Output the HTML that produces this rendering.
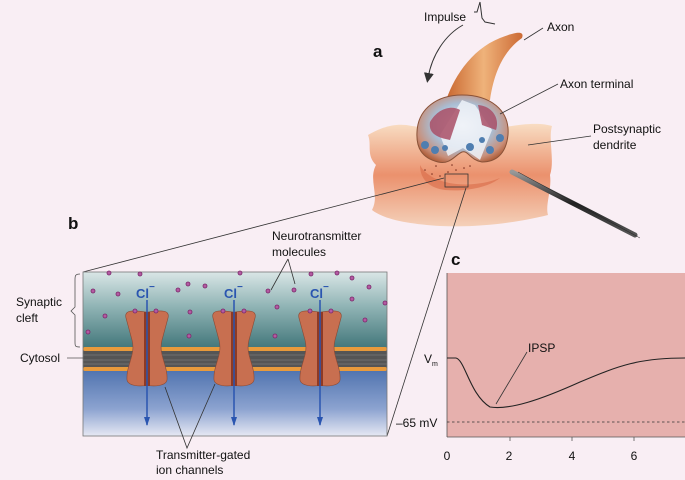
<!DOCTYPE html>
<html><head><meta charset="utf-8"><style>
html,body{margin:0;padding:0;background:#f9eef4;}
svg{display:block;font-family:"Liberation Sans",Arial,sans-serif;}
</style></head><body>
<svg width="685" height="480" viewBox="0 0 685 480" xmlns="http://www.w3.org/2000/svg">
<defs>
<linearGradient id="cleft" x1="0" y1="0" x2="0" y2="1">
<stop offset="0" stop-color="#d9e6e6"/><stop offset="0.45" stop-color="#8fb3b4"/><stop offset="1" stop-color="#3f7478"/>
</linearGradient>
<linearGradient id="cyto" x1="0" y1="0" x2="0" y2="1">
<stop offset="0" stop-color="#4d71ad"/><stop offset="0.6" stop-color="#8ca3d0"/><stop offset="1" stop-color="#e6e8f3"/>
</linearGradient>
<radialGradient id="bulb" cx="0.5" cy="0.45" r="0.6">
<stop offset="0" stop-color="#f4f4f6"/><stop offset="0.55" stop-color="#a9bdd3"/><stop offset="0.85" stop-color="#c98f7a"/><stop offset="1" stop-color="#b0603c"/>
</radialGradient>
<linearGradient id="axon" x1="0" y1="0" x2="1" y2="0">
<stop offset="0" stop-color="#c8652e"/><stop offset="0.5" stop-color="#efb27a"/><stop offset="1" stop-color="#cc6a34"/>
</linearGradient>
<linearGradient id="den" x1="0" y1="0" x2="0" y2="1">
<stop offset="0" stop-color="#f8dcc0"/><stop offset="0.5" stop-color="#ea8c66"/><stop offset="1" stop-color="#f4cfb6"/>
</linearGradient>
<linearGradient id="elec" x1="0" y1="0" x2="0" y2="1">
<stop offset="0" stop-color="#999"/><stop offset="0.5" stop-color="#222"/><stop offset="1" stop-color="#555"/>
</linearGradient>
<marker id="ah" markerWidth="9" markerHeight="8" refX="8" refY="4" orient="auto" markerUnits="userSpaceOnUse">
<path d="M0,1 L9,4 L0,7 Z" fill="#2a55b0"/></marker>
<marker id="ak" markerWidth="10" markerHeight="10" refX="5" refY="5" orient="auto" markerUnits="userSpaceOnUse">
<path d="M0,0 L10,5 L0,10 Z" fill="#333"/></marker>
</defs>

<!-- panel a -->
<text x="373" y="57" font-size="17" font-weight="bold" fill="#111">a</text>
<path d="M368,135 C380,128 395,122 412,126 C440,130 480,132 500,128 C520,124 540,122 552,126 C548,140 555,160 550,175 C552,190 545,205 548,215 C520,222 480,228 440,226 C410,224 385,220 372,210 C380,195 368,180 376,165 C366,155 372,145 368,135 Z" fill="url(#den)" opacity="0.95"/>
<path d="M420,165 C430,185 470,190 500,178 C490,186 470,192 445,190 C430,188 420,180 420,165 Z" fill="#d86a48" opacity="0.6"/>
<path d="M445,104 C452,80 470,50 500,38 C515,32 525,30 522,38 C508,48 495,65 490,100 Z" fill="url(#axon)"/>
<path d="M417,132 C418,108 438,95 462,95 C490,95 510,110 508,135 C506,155 495,162 482,162 C470,160 468,150 462,152 C455,155 450,165 438,162 C422,158 416,148 417,132 Z" fill="url(#bulb)" stroke="#8a5238" stroke-width="1"/>
<path d="M462,100 L440,135 L448,156 L463,148 L480,160 L492,130 L475,105 Z" fill="#eef2f8" opacity="0.85"/>
<path d="M430,122 C438,108 452,105 460,110 L450,140 C440,138 428,135 430,122 Z" fill="#a94f66" opacity="0.85"/>
<path d="M478,105 C492,106 500,118 496,130 L482,125 Z" fill="#a94f66" opacity="0.85"/>
<g fill="#4f7eb0"><circle cx="425" cy="145" r="4"/><circle cx="435" cy="150" r="4"/><circle cx="445" cy="148" r="3"/><circle cx="470" cy="147" r="4"/><circle cx="482" cy="140" r="3"/><circle cx="490" cy="150" r="4"/><circle cx="500" cy="138" r="4"/></g>
<g fill="#7a3020"><circle cx="425" cy="170" r="0.8"/><circle cx="432" cy="174" r="0.8"/><circle cx="440" cy="176" r="0.8"/><circle cx="448" cy="172" r="0.8"/><circle cx="456" cy="170" r="0.8"/><circle cx="464" cy="168" r="0.8"/><circle cx="436" cy="166" r="0.8"/><circle cx="452" cy="165" r="0.8"/><circle cx="470" cy="166" r="0.8"/></g>
<rect x="445" y="174" width="23" height="13" fill="none" stroke="#333" stroke-width="0.8"/>
<path d="M512,172 L635,235" stroke="url(#elec)" stroke-width="5" stroke-linecap="round"/>
<path d="M518,172 L640,238" stroke="#222" stroke-width="0.5"/>
<!-- labels a -->
<text x="424" y="21" font-size="12" fill="#111">Impulse</text>
<path d="M474,12 L477,12 L480,2 L482,18 L485,22 L495,24" stroke="#333" fill="none" stroke-width="1"/>
<path d="M463,25 C445,35 432,55 428,78" stroke="#333" fill="none" stroke-width="1" marker-end="url(#ak)"/>
<text x="547" y="31" font-size="12" fill="#111">Axon</text>
<line x1="543" y1="28" x2="524" y2="40" stroke="#333" stroke-width="0.8"/>
<text x="560" y="88" font-size="12" fill="#111">Axon terminal</text>
<line x1="558" y1="84" x2="500" y2="114" stroke="#333" stroke-width="0.8"/>
<text x="593" y="133" font-size="12" fill="#111">Postsynaptic</text>
<text x="593" y="149" font-size="12" fill="#111">dendrite</text>
<line x1="591" y1="136" x2="528" y2="145" stroke="#333" stroke-width="0.8"/>

<!-- zoom lines -->
<line x1="83" y1="272" x2="444" y2="178" stroke="#333" stroke-width="0.8"/>
<line x1="387" y1="436" x2="466" y2="188" stroke="#333" stroke-width="0.8"/>

<!-- panel b -->
<text x="68" y="229" font-size="17" font-weight="bold" fill="#111">b</text>
<rect x="83" y="272" width="304" height="78" fill="url(#cleft)"/>
<rect x="83" y="368" width="304" height="68" fill="url(#cyto)"/>
<rect x="83" y="350" width="304" height="18" fill="#555"/>
<g stroke="#888" stroke-width="0.6">
<path d="M83,355 H387 M83,360 H387 M83,364 H387"/>
</g>
<g fill="#e89a3c">
<rect x="83" y="347" width="304" height="4" rx="2"/>
<rect x="83" y="367" width="304" height="4" rx="2"/>
</g>
<rect x="83" y="272" width="304" height="164" fill="none" stroke="#777" stroke-width="0.8"/>
<!-- channels -->
<g fill="#c86f50" stroke="#8a4a35" stroke-width="0.6">
<path d="M126,318 C124,310 132,310 146,312 L148,385 C140,387 128,386 127,380 C126,365 136,355 132,340 Z"/>
<path d="M168,318 C170,310 162,310 148,312 L146,385 C154,387 166,386 167,380 C168,365 158,355 162,340 Z"/>
<path d="M213,318 C211,310 219,310 233,312 L235,385 C227,387 215,386 214,380 C213,365 223,355 219,340 Z"/>
<path d="M255,318 C257,310 249,310 235,312 L233,385 C241,387 253,386 254,380 C255,365 245,355 249,340 Z"/>
<path d="M299,318 C297,310 305,310 319,312 L321,385 C313,387 301,386 300,380 C299,365 309,355 305,340 Z"/>
<path d="M341,318 C343,310 335,310 321,312 L319,385 C327,387 339,386 340,380 C341,365 331,355 335,340 Z"/>
</g>
<g fill="#8e3a25"><rect x="144" y="312" width="6" height="74"/><rect x="231" y="312" width="6" height="74"/><rect x="317" y="312" width="6" height="74"/></g>
<g stroke="#2a55b0" stroke-width="1.5" marker-end="url(#ah)">
<line x1="147" y1="300" x2="147" y2="425"/><line x1="234" y1="300" x2="234" y2="425"/><line x1="320" y1="300" x2="320" y2="425"/>
</g>
<g font-size="13" font-weight="bold" fill="#2a55b0">
<text x="136" y="298">Cl</text><text x="149" y="290" font-size="10">−</text>
<text x="224" y="298">Cl</text><text x="237" y="290" font-size="10">−</text>
<text x="310" y="298">Cl</text><text x="323" y="290" font-size="10">−</text>
</g>
<g fill="#b35aa2" stroke="#7a2a6a" stroke-width="0.8">
<circle cx="109" cy="273" r="2"/><circle cx="140" cy="274" r="2"/><circle cx="240" cy="273" r="2"/><circle cx="311" cy="274" r="2"/><circle cx="337" cy="273" r="2"/><circle cx="352" cy="278" r="2"/>
<circle cx="93" cy="291" r="2"/><circle cx="118" cy="294" r="2"/><circle cx="178" cy="290" r="2"/><circle cx="188" cy="284" r="2"/><circle cx="205" cy="286" r="2"/><circle cx="268" cy="291" r="2"/><circle cx="294" cy="290" r="2"/><circle cx="352" cy="299" r="2"/><circle cx="369" cy="287" r="2"/><circle cx="385" cy="303" r="2"/>
<circle cx="105" cy="316" r="2"/><circle cx="135" cy="311" r="2"/><circle cx="156" cy="311" r="2"/><circle cx="190" cy="312" r="2"/><circle cx="223" cy="311" r="2"/><circle cx="244" cy="311" r="2"/><circle cx="277" cy="307" r="2"/><circle cx="310" cy="311" r="2"/><circle cx="331" cy="311" r="2"/><circle cx="365" cy="320" r="2"/>
<circle cx="88" cy="332" r="2"/><circle cx="189" cy="336" r="2"/><circle cx="275" cy="336" r="2"/>
</g>
<!-- labels b -->
<text x="272" y="240" font-size="12" fill="#111">Neurotransmitter</text>
<text x="272" y="256" font-size="12" fill="#111">molecules</text>
<path d="M288,259 L271,290 M288,259 L295,284" stroke="#333" fill="none" stroke-width="0.8"/>
<text x="16" y="306" font-size="12" fill="#111">Synaptic</text>
<text x="16" y="322" font-size="12" fill="#111">cleft</text>
<path d="M80,274 C75,274 75,276 75,280 L75,307 L71,311 L75,315 L75,342 C75,346 75,347 80,347" stroke="#555" fill="none" stroke-width="0.8"/>
<text x="20" y="362" font-size="12" fill="#111">Cytosol</text>
<line x1="67" y1="358" x2="100" y2="358" stroke="#555" stroke-width="0.8"/>
<path d="M165,387 L187,448 L215,384" stroke="#333" fill="none" stroke-width="0.8"/>
<text x="156" y="459" font-size="12" fill="#111">Transmitter-gated</text>
<text x="156" y="474" font-size="12" fill="#111">ion channels</text>

<!-- panel c -->
<text x="451" y="265" font-size="17" font-weight="bold" fill="#111">c</text>
<rect x="447" y="273" width="238" height="164" fill="#e6b0ad"/>
<line x1="447" y1="273" x2="447" y2="437" stroke="#555" stroke-width="0.8"/>
<line x1="447" y1="437" x2="685" y2="437" stroke="#555" stroke-width="0.8"/>
<g stroke="#555" stroke-width="0.8"><line x1="510" y1="437" x2="510" y2="441"/><line x1="572" y1="437" x2="572" y2="441"/><line x1="634" y1="437" x2="634" y2="441"/></g>
<line x1="447" y1="422" x2="685" y2="422" stroke="#333" stroke-width="0.8" stroke-dasharray="2.5,2.5"/>
<path d="M447,358 L456,358 C465,360 470,395 490,407 C510,410 540,400 580,382 C620,365 640,358 685,358" stroke="#222" fill="none" stroke-width="1.1"/>
<line x1="496" y1="404" x2="527" y2="352" stroke="#333" stroke-width="0.8"/>
<text x="528" y="352" font-size="12" fill="#111">IPSP</text>
<text x="424" y="363" font-size="12" fill="#111">V</text><text x="432" y="366" font-size="7" fill="#111">m</text>
<text x="396" y="427" font-size="12" fill="#111">–65 mV</text>
<g font-size="12" fill="#111" text-anchor="middle"><text x="447" y="460">0</text><text x="509" y="460">2</text><text x="572" y="460">4</text><text x="634" y="460">6</text></g>
</svg>
</body></html>
